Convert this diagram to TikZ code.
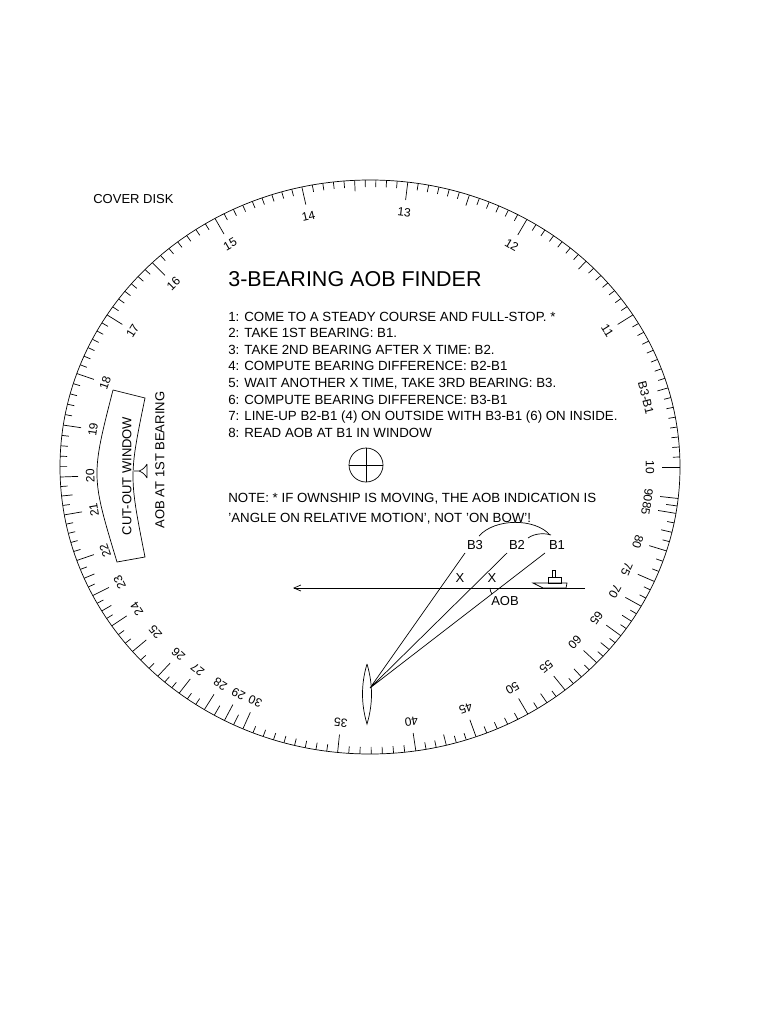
\documentclass[tikz,border=0pt]{standalone}
\usepackage{fontspec}
\setmainfont{Liberation Sans}
\usetikzlibrary{arrows.meta}
\begin{document}
\begin{tikzpicture}[x=1pt,y=1pt,line width=0.7pt,
  txt/.style={font=\fontsize{13.3}{14}\selectfont,inner sep=0pt},
  num/.style={font=\fontsize{12}{13}\selectfont,inner sep=0pt},
  lbl/.style={font=\fontsize{13}{14}\selectfont,inner sep=0pt}]
\useasboundingbox (0,0) rectangle (768,-1024);
\def\cx{370}\def\cy{-467}\def\rx{310}\def\ry{287}
\draw (\cx,\cy) ellipse [x radius=\rx, y radius=\ry];
% scale
\foreach \v/\a/\b in {10/0/32,11/32/59.6,12/59.6/83,13/83/102.7,14/102.7/120,15/120/134.6,16/134.6/148,17/148/161,18/161/171.6,19/171.6/182,20/182/189.6,21/189.6/199,22/199/206.6,23/206.6/213.6,24/213.6/220,25/220/226.8,26/226.8/232,27/232/237.7,28/237.7/242,29/242/245.8,30/245.8/264,35/264/278.5,40/278.5/290,45/290/300.6,50/300.6/309,55/309/317,60/317/324,65/324/331,70/331/336.5,75/336.5/343,80/343/350.7,85/350.7/353.7,90/353.7/356}{
  \draw ({\cx+\rx*cos(\a)},{\cy+\ry*sin(\a)}) -- ({\cx+(\rx-18)*cos(\a)},{\cy+(\ry-18)*sin(\a)});
  \node[num,rotate=\a-90] (n\v) at ({\cx+(\rx-30)*cos(\a)},{\cy+(\ry-30)*sin(\a)}) {\v};
  \pgfmathtruncatemacro\n{max(2,round((\b-\a)/2))}
  \pgfmathtruncatemacro\m{\n-1}
  \ifnum\v<90
  \foreach \k in {1,...,\m}{
    \pgfmathsetmacro\t{\a+(\b-\a)*\k/\n}
    \pgfmathsetmacro\L{(2*\k==\n)?11:7}
    \draw ({\cx+\rx*cos(\t)},{\cy+\ry*sin(\t)}) -- ({\cx+(\rx-\L)*cos(\t)},{\cy+(\ry-\L)*sin(\t)});
  }\fi
}
\node[num,rotate=-76] (b3b1) at (646,-398) {B3-B1};
% texts
\node[lbl,anchor=base west] (cover) at (93,-204) {COVER DISK};
\node[font=\fontsize{21.5}{24}\selectfont,inner sep=0pt,anchor=base west] (title) at (228,-286) {3-BEARING AOB FINDER};
\foreach \i/\s in {0/{1: COME TO A STEADY COURSE AND FULL-STOP. *},1/{2: TAKE 1ST BEARING: B1.},2/{3: TAKE 2ND BEARING AFTER X TIME: B2.},3/{4: COMPUTE BEARING DIFFERENCE: B2-B1},4/{5: WAIT ANOTHER X TIME, TAKE 3RD BEARING: B3.},5/{6: COMPUTE BEARING DIFFERENCE: B3-B1},6/{7: LINE-UP B2-B1 (4) ON OUTSIDE WITH B3-B1 (6) ON INSIDE.},7/{8: READ AOB AT B1 IN WINDOW}}
  \node[txt,anchor=base west] (l\i) at (228,{-321-16.6*\i}) {\s};
\node[txt,anchor=base west] (note1) at (228,-502) {NOTE: * IF OWNSHIP IS MOVING, THE AOB INDICATION IS};
\node[txt,anchor=base west] (note2) at (228,-522) {'ANGLE ON RELATIVE MOTION', NOT 'ON BOW'!};
% crosshair
\node[circle,draw,minimum size=34pt,inner sep=0pt] (cross) at (366,-465) {};
\draw (cross.north) -- (cross.south) (cross.west) -- (cross.east);
% window
\draw (113,-390) -- (145,-398) .. controls (129,-476) .. (145,-557) -- (117,-562) .. controls (91,-476) .. (113,-390);
\node[lbl,rotate=90] (cw) at (127,-476) {CUT-OUT WINDOW};
\node[lbl,rotate=90] (aob1) at (160,-460) {AOB AT 1ST BEARING};
\coordinate (ma) at (147,-464); \coordinate (mb) at (147,-478); \coordinate (mc) at (139,-471); \coordinate (md) at (134,-471);
\draw (ma) to[bend left=20] (mc) (mb) to[bend right=20] (mc) (mc) -- (md) (ma) -- (mb);
% plot
\coordinate (O) at (370,-688);
\draw (367,-664) .. controls (361,-684) and (361,-704) .. (367,-724) .. controls (373,-704) and (373,-684) .. (367,-664);
\coordinate (e3) at (465,-553); \coordinate (e2) at (507,-553); \coordinate (e1) at (545,-553);
\draw (O) -- (e3) (O) -- (e2) (O) -- (e1);
\node[lbl] (B3) at (475,-545) {B3};
\node[lbl] (B2) at (517,-545) {B2};
\node[lbl] (B1) at (557,-545) {B1};
\coordinate (hr) at (585,-588); \coordinate (hl) at (293,-588);
\draw[-{Straight Barb[length=7pt,width=6pt]}] (hr) -- (hl);
\node[lbl] (X1) at (460,-578) {X};
\node[lbl] (X2) at (492,-578) {X};
\node[lbl] (AOB) at (505,-601) {AOB};
\draw (490,-588) arc[start angle=180,end angle=217.6,radius=10];
\draw (479,-536) .. controls (495,-518) and (535,-518) .. (550,-535);
\draw (528,-538) .. controls (535,-533) and (545,-533) .. (551,-535);
% ship
\draw (533,-583) -- (567,-583) -- (566,-588) -- (543,-588) -- cycle;
\draw (548,-583) rectangle (561,-577);
\draw (552,-577) rectangle (555,-570);
\end{tikzpicture}
\end{document}
